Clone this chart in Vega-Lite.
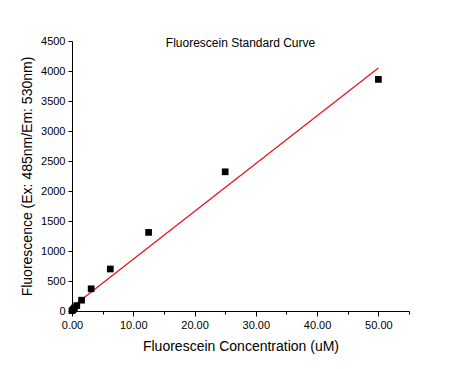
{
  "$schema": "https://vega.github.io/schema/vega-lite/v6.json",
  "width": 337,
  "height": 270,
  "autosize": {"type": "none"},
  "padding": {"left": 72, "top": 41, "right": 65, "bottom": 58},
  "background": "white",
  "config": {
    "view": {"stroke": null},
    "font": "Liberation Sans"
  },
  "title": {
    "text": "Fluorescein Standard Curve",
    "fontSize": 12,
    "fontWeight": "normal",
    "font": "Liberation Sans",
    "color": "black",
    "anchor": "middle",
    "offset": -15
  },
  "datasets": {
    "pts": [
      {"conc": 0, "fluor": 5},
      {"conc": 0.195, "fluor": 25},
      {"conc": 0.39, "fluor": 50},
      {"conc": 0.78, "fluor": 90},
      {"conc": 1.5625, "fluor": 180},
      {"conc": 3.125, "fluor": 370},
      {"conc": 6.25, "fluor": 700},
      {"conc": 12.5, "fluor": 1310},
      {"conc": 25, "fluor": 2320},
      {"conc": 50, "fluor": 3860}
    ],
    "fit": [
      {"conc": 0, "fluor": 65},
      {"conc": 50, "fluor": 4050}
    ]
  },
  "encoding": {
    "x": {
      "field": "conc", "type": "quantitative",
      "scale": {"domain": [0, 55], "nice": false, "zero": false},
      "axis": {
        "title": "Fluorescein Concentration (uM)",
        "titleFontSize": 14, "titleFontWeight": "normal", "titleColor": "black", "titlePadding": 9,
        "values": [0, 5, 10, 15, 20, 25, 30, 35, 40, 45, 50, 55],
        "labelExpr": "datum.value % 10 == 0 && datum.value < 55 ? format(datum.value, '.2f') : ''",
        "labelFontSize": 11, "labelColor": "black", "labelFlush": false, "labelPadding": 3, "labelOverlap": false,
        "grid": false, "domainColor": "black", "tickColor": "black",
        "tickSize": {"condition": {"test": "datum.value % 10 == 0", "value": 5}, "value": 3}
      }
    },
    "y": {
      "field": "fluor", "type": "quantitative",
      "scale": {"domain": [0, 4500], "nice": false},
      "axis": {
        "title": "Fluorescence (Ex: 485nm/Em: 530nm)",
        "titleFontSize": 14, "titleFontWeight": "normal", "titleColor": "black", "titlePadding": 6,
        "values": [0, 500, 1000, 1500, 2000, 2500, 3000, 3500, 4000, 4500],
        "format": "d",
        "labelFontSize": 11, "labelColor": "black", "labelFlush": false, "labelPadding": 3, "labelOverlap": false,
        "grid": false, "domainColor": "black", "tickColor": "black", "tickSize": 4
      }
    }
  },
  "layer": [
    {
      "data": {"name": "fit"},
      "mark": {"type": "line", "color": "#e8141c", "strokeWidth": 1.3}
    },
    {
      "data": {"name": "pts"},
      "mark": {"type": "point", "shape": "square", "filled": true, "color": "black", "opacity": 1, "size": 45}
    }
  ]
}
